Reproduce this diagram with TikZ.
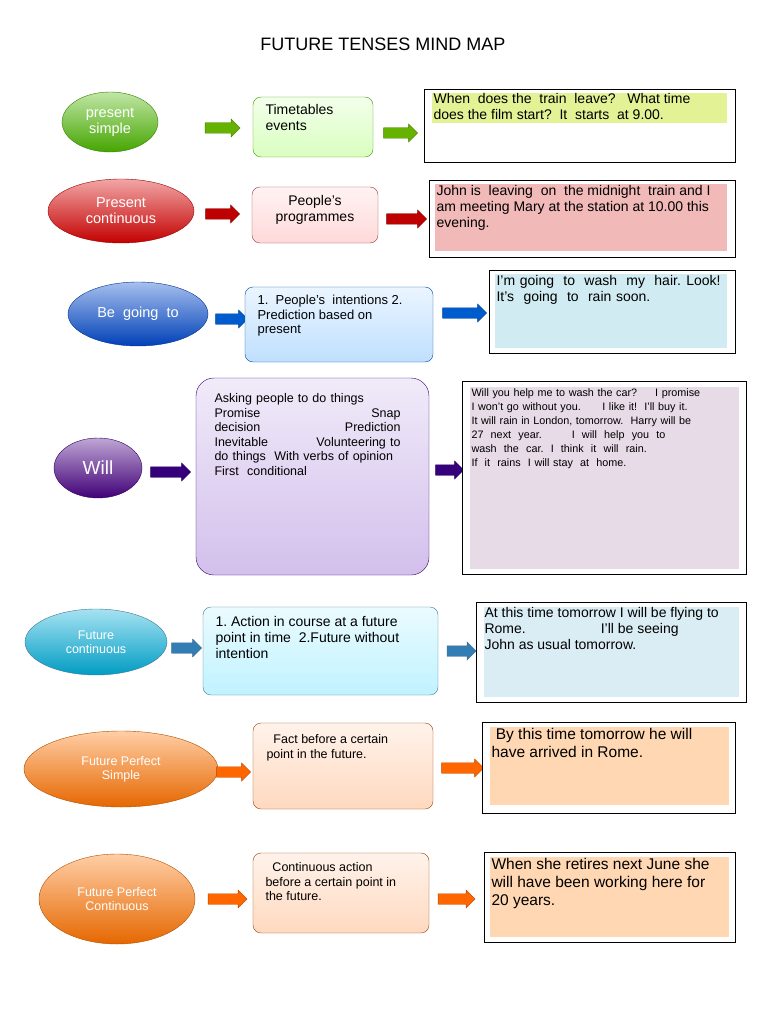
\documentclass[tikz,border=0pt]{standalone}
\usepackage{fontspec}
\setmainfont{Liberation Sans}
\usetikzlibrary{shapes.geometric,shapes.arrows}
\begin{document}
\begin{tikzpicture}[x=1pt,y=-1pt,
 ell/.style={ellipse,draw=#1!70!black,top color=#1!35,bottom color=#1!90!black,text=white,font=\fontsize{14.5}{16}\selectfont,align=center,inner sep=0pt},
 rbox/.style={rounded corners=8pt,draw=#1!60!black,top color=#1!8,bottom color=#1!25,align=left},
 arr/.style={single arrow,draw=#1!70!black,fill=#1,minimum height=34pt,minimum width=18pt,single arrow head extend=3pt,inner sep=4pt},
 obox/.style={draw=black,fill=white},
 ibox/.style={fill=#1},
 txt/.style={anchor=north west,align=left,font=\fontsize{14}{16}\selectfont}]
\useasboundingbox (0,0) rectangle (768,1024);
\node[font=\fontsize{18}{20}\selectfont] (title) at (383,44) {FUTURE TENSES MIND MAP};
% row 1
\node[ell=green!60!black!70!yellow,minimum width=96pt,minimum height=60pt] (e1) at (110,122) {present\\simple};
\node[arr=green!50!black!60!yellow,minimum height=35pt] (a1) at (220,128) {};
\draw[rbox=green!60!yellow] (253,97) rectangle (373,157);
\node[txt] (b1) at (262,101) {Timetables\\events};
\node[arr=green!50!black!60!yellow] (a2) at (398,133) {};
\draw[obox] (424,89) rectangle (735,162);
\fill[ibox={green!15!yellow!40!white!90!gray}] (432,93) rectangle (727,123);
\node[txt] (t1) at (430,90) {When\ \ does the\ \ train\ \ leave?\ \ \ What time\\does the film start?\ \ It\ \ starts\ \ at 9.00.};
% row 2
\node[ell=red!85!black,minimum width=146pt,minimum height=64pt] (e2) at (121,211) {Present\\continuous};
\node[arr=red!75!black] (a3) at (220,214) {};
\draw[rbox=red!60!white] (252,187) rectangle (378,243);
\node[align=center,font=\fontsize{14}{16}\selectfont] (b2) at (315,210) {People's\\programmes};
\node[arr=red!75!black,minimum height=40pt] (a4) at (404,219) {};
\draw[obox] (429,180) rectangle (735,257);
\fill[ibox=red!25!white!90!gray] (435,184) rectangle (727,251);
\node[txt] (t2) at (433,182) {John is\ \ leaving\ \ on\ \ the midnight\ \ train and I\\am meeting Mary at the station at 10.00 this\\evening.};
% row 3
\node[ell=blue!65!cyan!80!black,minimum width=140pt,minimum height=64pt] (e3) at (138,314) {Be\ \ going\ \ to};
\node[arr=blue!55!cyan!80!black,minimum height=32pt] (a5) at (229,319) {};
\draw[rbox=blue!50!cyan] (245,287) rectangle (433,362);
\node[txt,font=\fontsize{13}{14.5}\selectfont] (b3) at (254,292) {1.\ \ People's\ \ intentions 2.\\Prediction based on\\present};
\node[arr=blue!55!cyan!80!black,minimum height=44pt] (a6) at (462,313) {};
\draw[obox] (489,270) rectangle (735,353);
\fill[ibox=blue!20!cyan!15!white!90!gray] (495,274) rectangle (727,348);
\node[txt,text width=224pt] (t3) at (493,272) {I'm going\ \ to\ \ wash\ \ my\ \ hair.\hfill Look!\\It's\ \ going\ \ to\ \ rain soon.};
% row 4
\node[ell=violet!70!blue!80!black,minimum width=88pt,minimum height=60pt,font=\fontsize{19}{20}\selectfont] (e4) at (98,468) {Will};
\node[arr=violet!60!blue!70!black,minimum height=40pt] (a7) at (168,472) {};
\draw[rbox=violet!60!blue,rounded corners=18pt] (196,378) rectangle (429,575);
\node[txt,font=\fontsize{12.5}{14.5}\selectfont,text width=186pt] (b4) at (211,390) {Asking people to do things\\Promise\hfill Snap\\decision\hfill Prediction\hspace*{14pt}\\Inevitable\hfill Volunteering to\\do things\ \ With verbs of opinion\\First\ \ conditional};
\node[arr=violet!60!blue!70!black,minimum height=28pt] (a8) at (447,470) {};
\draw[obox] (462,381) rectangle (746,574);
\fill[ibox=violet!10!white!90!gray] (470,387) rectangle (739,569);
\node[txt,font=\fontsize{10.8}{14}\selectfont,text width=262pt] (t4) at (468,385) {Will you help me to wash the car?\hspace*{18pt}I promise\\I won't go without you.\ \ \ \ \ \ I like it!\ \ I'll buy it.\\It will rain in London, tomorrow.\ \ Harry will be\\27\ \ next\ \ year.\hspace*{30pt}I\ \ will\ \ help\ \ you\ \ to\\wash\ \ the\ \ car.\ \ I\ \ think\ \ it\ \ will\ \ rain.\\If\ \ it\ \ rains\ \ I will stay\ \ at\ \ home.};
% row 5
\node[ell=cyan!80!blue!85!black,minimum width=142pt,minimum height=66pt,font=\fontsize{12.5}{14}\selectfont] (e5) at (96,642) {Future\\continuous};
\node[arr=cyan!70!blue!80!black,minimum height=30pt] (a9) at (184,648) {};
\draw[rbox=cyan!80!blue] (203,607) rectangle (438,695);
\node[txt,font=\fontsize{14}{16}\selectfont] (b5) at (212,613) {1.\ Action in course at a future\\point in time\ \ 2.Future without\\intention};
\node[arr=cyan!70!blue!80!black,minimum height=29pt] (a10) at (459,651) {};
\draw[obox] (476,602) rectangle (746,702);
\fill[ibox=cyan!12!white!92!gray] (484,607) rectangle (739,697);
\node[txt,font=\fontsize{14}{16}\selectfont] (t5) at (481,604) {At this time tomorrow I will be flying to\\Rome.\hspace*{75pt}I'll be seeing\\John as usual tomorrow.};
% row 6
\node[ell=orange!90!red,minimum width=194pt,minimum height=76pt,font=\fontsize{12.5}{14}\selectfont] (e6) at (121,769) {Future Perfect\\Simple};
\node[arr=orange!80!red,minimum height=34pt] (a11) at (231,772) {};
\draw[rbox=orange!80!red] (253,723) rectangle (433,809);
\node[txt,font=\fontsize{12.5}{14.5}\selectfont] (b6) at (263,731) {\ \ Fact before a certain\\point in the future.};
\node[arr=orange!80!red,minimum height=42pt] (a12) at (460,768) {};
\draw[obox] (482,722) rectangle (735,813);
\fill[ibox=orange!30!white!95!pink] (490,727) rectangle (729,805);
\node[txt,font=\fontsize{15.5}{18}\selectfont] (t6) at (488,725) {\ By this time tomorrow he will\\have arrived in Rome.};
% row 7
\node[ell=orange!90!red,minimum width=156pt,minimum height=90pt,font=\fontsize{12.5}{14}\selectfont] (e7) at (117,899) {Future Perfect\\Continuous};
\node[arr=orange!80!red,minimum height=39pt] (a13) at (225,899) {};
\draw[rbox=orange!80!red] (253,853) rectangle (429,933);
\node[txt,font=\fontsize{12.5}{14.5}\selectfont] (b7) at (262,859) {\ \ Continuous action\\before a certain point in\\the future.};
\node[arr=orange!80!red,minimum height=37pt] (a14) at (454,899) {};
\draw[obox] (484,852) rectangle (735,942);
\fill[ibox=orange!30!white!95!pink] (490,857) rectangle (729,937);
\node[txt,font=\fontsize{15.5}{18}\selectfont] (t7) at (488,855) {When she retires next June she\\will have been working here for\\20 years.};
\end{tikzpicture}
\end{document}
